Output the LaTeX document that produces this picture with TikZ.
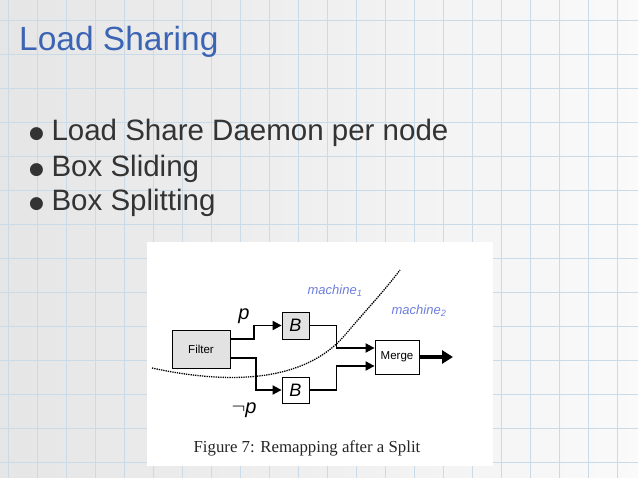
\documentclass[tikz,border=0pt]{standalone}
\usepackage{fontspec}
\setmainfont{Liberation Sans}
\newfontfamily\captionfont{Liberation Serif}
\newfontfamily\dotfont{DejaVu Sans}
\usetikzlibrary{arrows.meta}
\definecolor{titleblue}{HTML}{3C64B4}
\definecolor{textgray}{HTML}{333333}
\definecolor{gridblue}{HTML}{C9DAE8}
\definecolor{boxgray}{HTML}{E2E2E2}
\definecolor{machblue}{HTML}{6E7EDE}
\begin{document}
\begin{tikzpicture}[x=1pt, y=-1pt,
  box/.style={draw, line width=0.8pt, inner sep=0pt},
  flow/.style={line width=1.9pt, -{Triangle[length=9pt,width=9pt]}},
  bullet/.style={anchor=base west, text=textgray, font=\fontsize{29.5}{30}\selectfont},
  dot/.style={anchor=base west, inner sep=0pt, text=textgray, font=\dotfont\fontsize{17}{17}\selectfont},
  machlabel/.style={text=machblue, font=\fontsize{13}{13}\selectfont\itshape}]
\useasboundingbox (0,0) rectangle (638,478);
\shade[left color=black!10, right color=black!2] (0,0) rectangle (638,478);
\foreach \x in {8,37,...,638} \draw[gridblue, line width=0.6pt] (\x,0) -- (\x,478);
\foreach \y in {20,54,...,478} \draw[gridblue, line width=0.6pt] (0,\y) -- (638,\y);

\node[anchor=base west, inner sep=0pt, text=titleblue, font=\fontsize{33.5}{34}\selectfont] (title) at (19,51) {Load Sharing};
\node[dot] (d1) at (29,139) {●};
\node[bullet] (l1) at (48,141) {Load Share Daemon per node};
\node[dot] (d2) at (29,175) {●};
\node[bullet] (l2) at (48,177) {Box Sliding};
\node[dot] (d3) at (29,209) {●};
\node[bullet] (l3) at (48,211) {Box Splitting};

\fill[white] (147,242) rectangle (493,466);

\node[box, fill=boxgray, minimum width=58pt, minimum height=38pt, font=\fontsize{11.5}{12}\selectfont] (filter) at (201,349) {Filter};
\node[box, fill=boxgray, minimum width=27pt, minimum height=27pt, font=\fontsize{18}{18}\selectfont\itshape] (b1) at (295.5,325.5) {B};
\node[box, minimum width=27pt, minimum height=26pt, font=\fontsize{18}{18}\selectfont\itshape] (b2) at (295.5,390) {B};
\node[box, minimum width=44pt, minimum height=34pt, font=\fontsize{11.5}{12}\selectfont] (merge) at (397,357) {Merge};
\coordinate (out) at (453,357);

\node[font=\fontsize{20}{20}\selectfont\itshape] (p) at (244,316) {p};
\node[font=\fontsize{20}{20}\selectfont\itshape] (np) at (244,410) {$\neg$\textit{p}};
\node[machlabel] (m1) at (335,291) {machine\textsubscript{1}};
\node[machlabel] (m2) at (419,311) {machine\textsubscript{2}};

\draw[flow] ([yshift=10pt]filter.east) -- ++(24,0) |- (b1);
\draw[flow] ([yshift=-9pt]filter.east) -- ++(26,0) |- (b2);
\draw[flow] (b1) -- ++(41,0) |- ([yshift=9pt]merge.west);
\draw[flow] (b2) -- ++(41,0) |- ([yshift=-9pt]merge.west);
\draw[line width=3.5pt, -{Triangle[length=11pt,width=13pt]}] (merge) -- (out);

\draw[densely dotted, line width=1.3pt] (152,368) .. controls (230,385) and (305,382) .. (345,335) .. controls (368,308) and (385,290) .. (400,270);

\node[anchor=base, text=black!85, font=\captionfont\fontsize{16.8}{17}\selectfont] (caption) at (307,453) {Figure 7: Remapping after a Split};
\end{tikzpicture}
\end{document}
